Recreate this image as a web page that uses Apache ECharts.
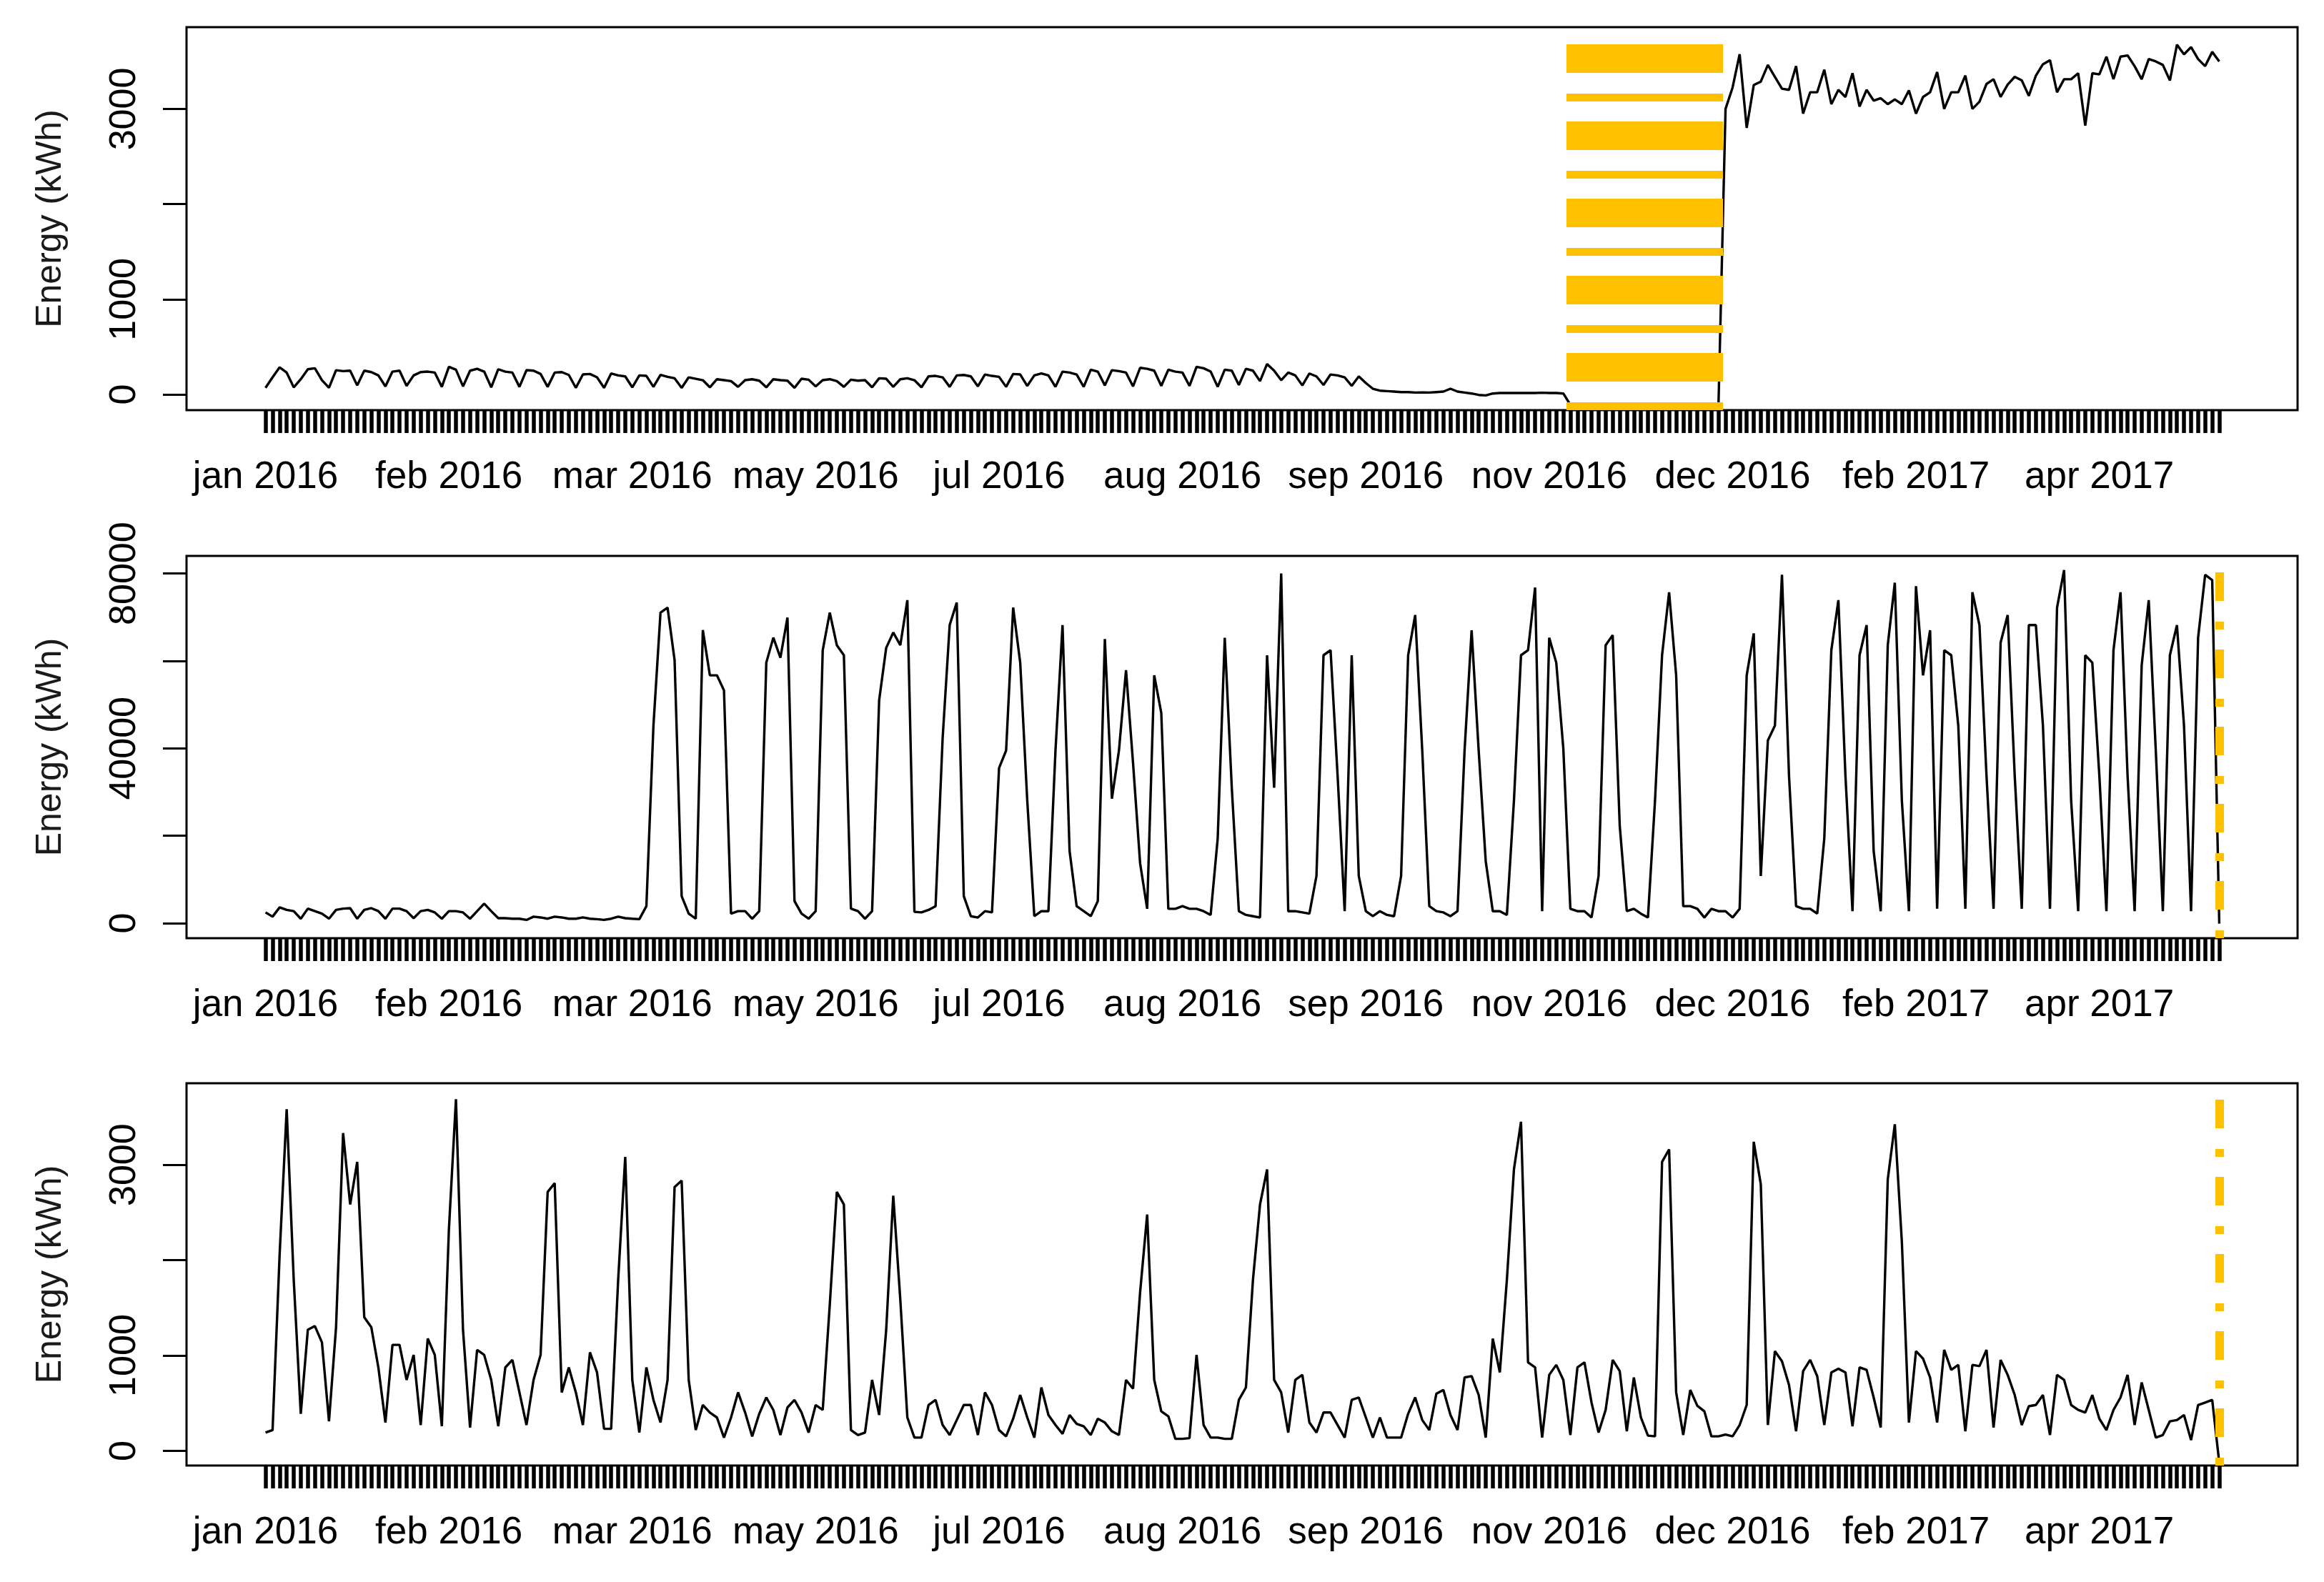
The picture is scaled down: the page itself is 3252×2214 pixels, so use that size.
<!DOCTYPE html>
<html><head><meta charset="utf-8">
<script src="https://cdn.jsdelivr.net/npm/echarts@6/dist/echarts.min.js"></script>
<style>html,body{margin:0;padding:0;background:#fff}#c{width:3252px;height:2214px}</style>
</head><body><div id="c"></div>
<script>
// ---- data (daily energy, kWh), one value per observation index ----
const energyA = [
70,180,285,230,75,160,265,275,150,70,
255,245,250,95,250,235,200,85,240,250,
90,200,235,240,230,80,290,260,85,250,
270,240,75,265,240,230,80,255,250,215,
80,230,235,205,70,210,215,180,70,220,
200,190,75,200,195,80,205,185,170,70,
180,165,150,75,160,150,140,80,150,160,
145,75,160,150,145,70,165,155,85,150,
160,140,80,155,145,150,75,170,165,80,
160,170,150,75,190,195,180,80,200,205,
190,85,210,195,185,80,215,210,90,200,
220,200,80,240,230,210,80,260,240,95,
255,245,230,85,280,270,250,90,260,240,
230,90,290,275,240,80,260,250,100,270,
250,140,320,250,150,230,200,95,220,190,
100,210,200,180,90,190,120,60,40,35,
30,25,25,20,22,20,25,30,60,30,
20,10,-5,-10,10,15,15,15,15,15,
15,18,15,15,10,-110,-110,-110,-110,-110,
-110,-110,-110,-110,-110,-110,-110,-110,-110,-110,
-110,-110,-110,-110,-110,-110,-110,3001,3226,3575,
2801,3251,3288,3463,3338,3213,3201,3450,2951,3176,
3176,3413,3051,3201,3126,3376,3026,3201,3088,3113,
3051,3101,3051,3196,2951,3126,3176,3388,3001,3176,
3176,3351,3001,3076,3263,3313,3126,3256,3338,3300,
3138,3351,3470,3513,3176,3313,3313,3376,2826,3376,
3363,3550,3313,3550,3563,3450,3313,3525,3500,3463,
3300,3675,3575,3650,3525,3450,3600,3500
];
const energyB = [
2470,1490,3620,3040,2755,1030,3330,2755,2180,1030,
3040,3330,3440,1030,3040,3440,2755,1030,3330,3330,
2755,1150,2755,3040,2470,1030,2755,2755,2470,1030,
2755,4480,2755,1150,1150,1030,1030,750,1490,1320,
1030,1490,1320,1030,1030,1320,1030,920,750,1030,
1490,1150,1030,920,3900,45230,71060,72200,60150,6200,
2180,1030,67040,56710,56710,53270,2180,2755,2755,1030,
2755,59600,65320,60730,69910,5050,2180,1030,2755,62450,
71060,63600,61300,3330,2755,1030,2755,51000,63000,66500,
63600,73900,2600,2470,3040,3900,42300,68200,73350,6200,
1600,1300,2750,2470,35500,39500,72200,59600,28000,1600,
2750,2750,39500,68200,16500,3900,2750,1600,5050,65000,
28500,39500,57900,36600,13700,3300,56700,48100,3300,3300,
3900,3300,3300,2750,1900,19400,65300,30900,2750,1900,
1600,1300,61300,31000,80000,2750,2750,2470,2180,10800,
61300,62450,33750,2750,61300,10800,2750,1600,2750,1900,
1600,10800,61300,70500,39500,3900,2750,2470,1600,2750,
39500,67000,39500,14200,2750,2750,1900,28000,61300,62450,
76800,2750,65300,59600,40000,3300,2750,2750,1300,10800,
63600,65900,22300,2750,3300,2180,1300,28000,61300,75700,
56700,3900,3900,3300,1300,3300,2750,2750,1300,3300,
56700,66300,10800,41800,45200,79700,33750,3900,3300,3300,
2180,19400,62450,73900,33750,2750,61300,68200,16500,2750,
63600,77900,28000,2750,77100,56700,67000,3300,62450,61300,
45200,3300,75700,68200,33750,3300,64200,70500,33750,3300,
68200,68200,45200,3300,72200,80800,28000,2750,61300,59600,
33750,2750,62450,75700,33750,2750,59000,73900,39500,2750,
61300,68200,45200,2750,65300,79700,78500,-100
];
const energyC = [
192,218,2058,3583,1796,389,1270,1309,1138,310,
1296,3333,2584,3031,1401,1296,875,297,1112,1112,
744,1007,271,1178,1007,258,2321,3688,1270,245,
1059,1007,744,258,875,954,613,271,744,1007,
2716,2808,613,875,613,271,1033,823,231,231,
1796,3084,744,192,875,534,297,744,2768,2834,
744,218,481,402,350,139,350,613,402,152,
389,560,429,166,455,534,402,192,481,429,
1533,2716,2584,218,166,192,744,376,1270,2676,
1585,350,139,139,481,534,271,166,323,481,
481,166,613,481,218,152,337,586,350,139,
665,376,271,179,376,284,258,166,337,297,
205,166,744,652,1664,2479,744,415,363,126,
126,134,1007,271,139,139,126,126,534,665,
1796,2584,2952,744,613,192,744,797,297,192,
402,402,271,139,534,560,350,139,350,139,
139,139,389,560,323,218,599,639,376,218,
770,784,586,139,1178,823,1796,2952,3452,928,
875,139,797,902,744,166,875,928,507,192,
429,954,836,205,770,350,160,152,3031,3163,
613,166,639,473,415,152,152,171,152,271,
481,3242,2795,271,1046,941,691,205,836,954,
783,271,823,862,823,258,875,849,560,245,
2847,3426,2190,297,1046,967,770,297,1059,849,
902,205,902,889,1059,245,954,797,586,271,
468,481,586,166,797,744,481,429,402,586,
337,218,429,560,797,271,718,429,139,166,
310,323,376,113,481,507,534,-124
];
// tick labels (one every xLabelStep observations)
const xTickLabels = ['jan 2016','feb 2016','mar 2016','may 2016','jul 2016','aug 2016','sep 2016','nov 2016','dec 2016','feb 2017','apr 2017'];
const xLabelStep = 26;
const yTicksA = [0,1000,2000,3000];
const yLabelsA = [0,1000,3000];
const yTicksB = [0,20000,40000,60000,80000];
const yLabelsB = [0,40000,80000];
const yTicksC = [0,1000,2000,3000];
const yLabelsC = [0,1000,3000];
// flagged observations (drawn as dot-dash vertical markers)
const flaggedA = [185,186,187,188,189,190,191,192,193,194,195,196,197,198,199,200,201,202,203,204,205,206];
const flaggedB = [277];
const flaggedC = [277];
const yNameText = 'Energy (kWh)';

// ---- chart ----
const FONT = 'Liberation Sans, Arial, sans-serif';
const days = energyA.map((_, i) => i);
const labelIdx = xTickLabels.map((_, k) => k * xLabelStep);
const panels = [
  {data: energyA, top: 38, height: 536, ymin: -165, ymax: 3860, ticks: yTicksA, labels: yLabelsA, flags: flaggedA},
  {data: energyB, top: 778, height: 535, ymin: -3430, ymax: 84020, ticks: yTicksB, labels: yLabelsB, flags: flaggedB},
  {data: energyC, top: 1516, height: 535, ymin: -154, ymax: 3856, ticks: yTicksC, labels: yLabelsC, flags: flaggedC}
];
const option = {
  backgroundColor: '#fff',
  animation: false,
  grid: panels.map(p => ({left: 261, width: 2954, top: p.top, height: p.height, show: true, borderColor: '#000', borderWidth: 3, backgroundColor: 'transparent', containLabel: false})),
  xAxis: panels.map((p, k) => ({
    type: 'value', gridIndex: k, min: -11.2, max: 288.1, position: 'bottom',
    axisLine: {show: false, onZero: false}, splitLine: {show: false},
    axisTick: {show: true, customValues: days, length: 32, lineStyle: {color: '#000', width: 5.5}},
    axisLabel: {show: true, customValues: labelIdx, formatter: v => xTickLabels[Math.round(v / xLabelStep)] || '',
      fontSize: 53, fontFamily: FONT, color: '#000', margin: 68}
  })),
  yAxis: panels.map((p, k) => ({
    type: 'value', gridIndex: k, min: p.ymin, max: p.ymax, position: 'left',
    axisLine: {show: false, onZero: false}, splitLine: {show: false},
    axisTick: {show: true, customValues: p.ticks, length: 33, lineStyle: {color: '#000', width: 3}},
    axisLabel: {show: true, customValues: p.labels, rotate: 90, formatter: v => String(v),
      fontSize: 52, fontFamily: FONT, color: '#000', margin: 60},
    name: yNameText, nameLocation: 'middle', nameRotate: 90, nameGap: 165,
    nameTextStyle: {fontSize: 50, fontFamily: FONT, color: '#1a1a1a'}
  })),
  series: panels.map((p, k) => ({
    type: 'line', xAxisIndex: k, yAxisIndex: k,
    data: p.data.map((v, i) => [i, v]),
    showSymbol: false, symbol: 'none', silent: true,
    lineStyle: {color: '#000', width: 3.4},
    markLine: {
      silent: true, symbol: ['none', 'none'], animation: false,
      label: {show: false},
      lineStyle: {color: '#FFC000', width: 12, type: [11, 29, 40, 28], cap: 'butt', opacity: 1},
      emphasis: {disabled: true},
      data: p.flags.map(i => [{coord: [i, p.ymin]}, {coord: [i, p.ymax]}])
    }
  }))
};
const chart = echarts.init(document.getElementById('c'), null, {renderer: 'canvas'});
chart.setOption(option);
</script>
</body></html>
